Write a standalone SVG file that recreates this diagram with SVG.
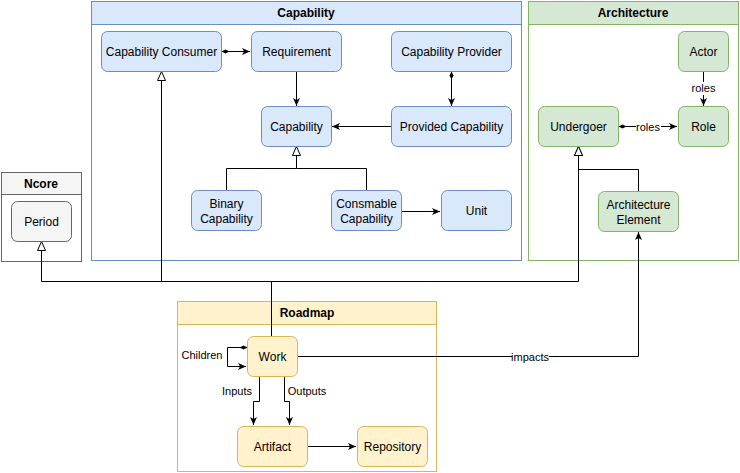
<svg xmlns="http://www.w3.org/2000/svg" width="740" height="473" viewBox="0 0 740 473">
<style>
text{font-family:"Liberation Sans",Arial,sans-serif;font-size:12px;fill:#000;text-anchor:middle;dominant-baseline:central}
.h{font-weight:bold}
.cap{fill:#dae8fc;stroke:#6c8ebf}
.arc{fill:#d5e8d4;stroke:#82b366}
.nc{fill:#f5f5f5;stroke:#666666}
.rm{fill:#fff2cc;stroke:#d6b656}
.body{fill:#fff}
.e{fill:none;stroke:#000;stroke-width:1}
.lbl{font-size:11px}
</style>
<defs>
<marker id="arr" viewBox="0 0 10 10" refX="9" refY="5" markerWidth="10" markerHeight="10" orient="auto" markerUnits="userSpaceOnUse"><path d="M1,1.5 L9,5 L1,8.5 L3,5 z" fill="#000"/></marker>
<marker id="dia" viewBox="0 0 10 6" refX="0" refY="3" markerWidth="10" markerHeight="6" orient="auto" markerUnits="userSpaceOnUse"><path d="M0,3 L4,1 L8,3 L4,5 z" fill="#000"/></marker>
<marker id="gen" viewBox="0 0 12 12" refX="10" refY="6" markerWidth="12" markerHeight="12" orient="auto" markerUnits="userSpaceOnUse"><path d="M1,2 L10,6 L1,10 z" fill="#fff" stroke="#000"/></marker>
</defs>

<g id="container-capability">
<rect x="91.5" y="1.5" width="430" height="259" class="body" stroke="#6c8ebf"/>
<rect x="91.5" y="1.5" width="430" height="23" class="cap"/>
<text x="306" y="13" class="h">Capability</text>
</g>
<g id="container-architecture">
<rect x="528.5" y="1.5" width="210" height="259" class="body" stroke="#82b366"/>
<rect x="528.5" y="1.5" width="210" height="23" class="arc"/>
<text x="633" y="13" class="h">Architecture</text>
</g>
<g id="container-ncore">
<rect x="1.5" y="172.5" width="80" height="89" class="body" stroke="#666666"/>
<rect x="1.5" y="172.5" width="80" height="22" class="nc"/>
<text x="41" y="184" class="h">Ncore</text>
</g>
<g id="container-roadmap">
<rect x="177.5" y="301.5" width="259" height="170" class="body" stroke="#d6b656"/>
<rect x="177.5" y="301.5" width="259" height="23" class="rm"/>
<text x="307" y="313" class="h">Roadmap</text>
</g>

<g id="connectors">
<path class="e" d="M221.5,51.5 H250" marker-start="url(#dia)" marker-end="url(#arr)"/>
<path class="e" d="M296.5,71.5 V106" marker-end="url(#arr)"/>
<path class="e" d="M451.5,71.5 V106" marker-start="url(#dia)" marker-end="url(#arr)"/>
<path class="e" d="M391.5,126.5 H332" marker-end="url(#arr)"/>
<path class="e" d="M226.5,190.5 V168.5 H296.5 V146.5" marker-end="url(#gen)"/>
<path class="e" d="M366.5,190.5 V168.5 H296.5"/>
<path class="e" d="M401.5,211.5 H440" marker-end="url(#arr)"/>
<path class="e" d="M703.5,71.5 V106" marker-end="url(#arr)"/>
<path class="e" d="M618.5,126.5 H677" marker-start="url(#dia)" marker-end="url(#arr)"/>
<path class="e" d="M638.5,191.5 V169.5 H578.5 V146.5" marker-end="url(#gen)"/>
<path class="e" d="M271.5,336.5 V281.5 H41.5 V241.5" marker-end="url(#gen)"/>
<path class="e" d="M271.5,281.5 H161.5 V71.5" marker-end="url(#gen)"/>
<path class="e" d="M271.5,281.5 H578.5 V146.5" marker-end="url(#gen)"/>
<path class="e" d="M297.5,356.5 H638.5 V232" marker-end="url(#arr)"/>
<path class="e" d="M247.5,347.5 H227.5 V366.5 H246" marker-start="url(#dia)" marker-end="url(#arr)"/>
<path class="e" d="M259.5,376.5 V401.5 H253.5 V425" stroke="#555" marker-end="url(#arr)"/>
<path class="e" d="M284.5,376.5 V401.5 H289.5 V425" stroke="#555" marker-end="url(#arr)"/>
<path class="e" d="M307.5,446.5 H356" marker-end="url(#arr)"/>
<rect x="692" y="82" width="23" height="13" fill="#fff"/>
<text x="703.5" y="88" class="lbl">roles</text>
<rect x="636" y="120" width="25" height="13" fill="#fff"/>
<text x="648" y="126.5" class="lbl">roles</text>
<rect x="512" y="350" width="37" height="13" fill="#fff"/>
<text x="530" y="356.5" class="lbl">impacts</text>
<text x="202" y="355" class="lbl">Children</text>
<text x="237" y="391" class="lbl">Inputs</text>
<text x="307" y="391" class="lbl">Outputs</text>
</g>

<g id="capability-consumer"><rect x="101.5" y="31.5" width="120" height="40" rx="6" class="cap"/><text x="161.5" y="51.5">Capability Consumer</text></g>
<g id="requirement"><rect x="251.5" y="31.5" width="90" height="40" rx="6" class="cap"/><text x="296.5" y="51.5">Requirement</text></g>
<g id="capability-provider"><rect x="391.5" y="31.5" width="120" height="40" rx="6" class="cap"/><text x="451.5" y="51.5">Capability Provider</text></g>
<g id="capability"><rect x="261.5" y="106.5" width="70" height="40" rx="6" class="cap"/><text x="296.5" y="126.5">Capability</text></g>
<g id="provided-capability"><rect x="391.5" y="106.5" width="120" height="40" rx="6" class="cap"/><text x="451.5" y="126.5">Provided Capability</text></g>
<g id="binary-capability"><rect x="191.5" y="190.5" width="70" height="40" rx="6" class="cap"/><text x="226.5" y="203.5">Binary</text><text x="226.5" y="218.5">Capability</text></g>
<g id="consmable-capability"><rect x="331.5" y="190.5" width="70" height="40" rx="6" class="cap"/><text x="366.5" y="203.5">Consmable</text><text x="366.5" y="218.5">Capability</text></g>
<g id="unit"><rect x="441.5" y="190.5" width="70" height="40" rx="6" class="cap"/><text x="476.5" y="210.5">Unit</text></g>

<g id="actor"><rect x="678.5" y="31.5" width="50" height="40" rx="6" class="arc"/><text x="703.5" y="51.5">Actor</text></g>
<g id="role"><rect x="678.5" y="106.5" width="50" height="40" rx="6" class="arc"/><text x="703.5" y="126.5">Role</text></g>
<g id="undergoer"><rect x="538.5" y="106.5" width="80" height="40" rx="6" class="arc"/><text x="578.5" y="126.5">Undergoer</text></g>
<g id="architecture-element"><rect x="598.5" y="191.5" width="80" height="40" rx="6" class="arc"/><text x="638.5" y="204.5">Architecture</text><text x="638.5" y="219.5">Element</text></g>

<g id="period"><rect x="11.5" y="201.5" width="60" height="40" rx="6" class="nc"/><text x="41.5" y="221.5">Period</text></g>

<g id="work"><rect x="247.5" y="336.5" width="50" height="40" rx="6" class="rm"/><text x="272.5" y="356.5">Work</text></g>
<g id="artifact"><rect x="237.5" y="426.5" width="70" height="40" rx="6" class="rm"/><text x="272.5" y="446.5">Artifact</text></g>
<g id="repository"><rect x="357.5" y="426.5" width="70" height="40" rx="6" class="rm"/><text x="392.5" y="446.5">Repository</text></g>
</svg>
